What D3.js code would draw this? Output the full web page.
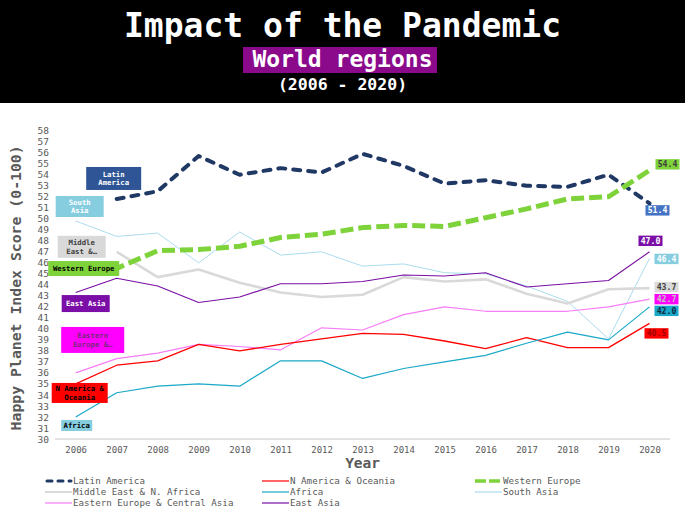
<!DOCTYPE html>
<html>
<head>
<meta charset="utf-8">
<script src="https://cdn.jsdelivr.net/npm/d3@7"></script>
<style>
  body { margin: 0; background: #fff; }
  text { font-family: "DejaVu Sans Mono", "Liberation Mono", monospace; }
</style>
</head>
<body>
<script>
const years = [2006, 2007, 2008, 2009, 2010, 2011, 2012, 2013, 2014, 2015, 2016, 2017, 2018, 2019, 2020];
const yTicks = d3.range(30, 59);

const latinAmerica = [null, 51.8, 52.5, 55.7, 54.0, 54.6, 54.2, 55.9, 54.8, 53.2, 53.5, 53.0, 52.9, 54.0, 51.4];
const westernEurope = [45.3, 45.5, 47.1, 47.2, 47.5, 48.3, 48.6, 49.2, 49.4, 49.3, 50.1, 50.9, 51.8, 52.0, 54.4];
const middleEast = [null, 47.0, 44.7, 45.4, 44.2, 43.3, 42.9, 43.1, 44.7, 44.3, 44.5, 43.2, 42.3, 43.6, 43.7];
const southAsia = [49.8, 48.4, 48.7, 46.0, 48.8, 46.7, 47.0, 45.7, 45.9, 45.1, 45.0, 43.9, 42.5, 39.1, 46.4];
const eastAsia = [43.3, 44.6, 43.9, 42.4, 42.9, 44.1, 44.1, 44.3, 44.9, 44.8, 45.1, 43.8, 44.1, 44.4, 47.0];
const easternEurope = [36.0, 37.3, 37.8, 38.6, 38.4, 38.1, 40.1, 39.9, 41.3, 42.0, 41.6, 41.6, 41.6, 42.0, 42.7];
const nAmerica = [35.0, 36.7, 37.1, 38.6, 38.0, 38.6, 39.1, 39.6, 39.5, 38.9, 38.2, 39.2, 38.3, 38.3, 40.5];
const africa = [32.0, 34.2, 34.8, 35.0, 34.8, 37.1, 37.1, 35.5, 36.4, 37.0, 37.6, 38.7, 39.7, 39.0, 42.0];

const width = 685, height = 514;

// series: drawing order is thin lines first, dashed on top
const series = [
  {name: "South Asia", values: southAsia, color: "#a9ddee", w: 1,
   tag: ["South", "Asia"], tagFill: "#86cde0", tagText: "#fff", tagW: 48, tagH: 21, tagDx: 4, tagDy: -14.5,
   endFill: "#86cde0", endText: "#fff", endDx: 17, endDy: 0.5},
  {name: "Middle East & N. Africa", values: middleEast, color: "#d9d9d9", w: 2.6,
   tag: ["Middle", "East &…"], tagFill: "#d9d9d9", tagText: "#404040", tagW: 48, tagH: 22, tagDx: -35, tagDy: -5,
   endFill: "#d9d9d9", endText: "#404040", endDx: 17, endDy: -1},
  {name: "East Asia", values: eastAsia, color: "#7a0ea4", w: 1.1,
   tag: ["East Asia"], tagFill: "#7a0ea6", tagText: "#fff", tagW: 48, tagH: 17, tagDx: 10, tagDy: 11,
   endFill: "#7a0ea6", endText: "#fff", endDx: 1, endDy: -11},
  {name: "Eastern Europe & Central Asia", values: easternEurope, color: "#f77ef7", w: 1.2,
   tag: ["Eastern", "Europe &…"], tagFill: "#ff00ff", tagText: "#7a2a7a", tagW: 63, tagH: 26, tagDx: 17, tagDy: -33,
   endFill: "#ff00ff", endText: "#c0c0c0", endDx: 17, endDy: 0},
  {name: "N America & Oceania", values: nAmerica, color: "#ff0000", w: 1.3,
   tag: ["N America &", "Oceania"], tagFill: "#ff0000", tagText: "#000", tagW: 56, tagH: 20, tagDx: 4, tagDy: 9,
   endFill: "#ff0000", endText: "#a00000", endDx: 7, endDy: 10},
  {name: "Africa", values: africa, color: "#1aa8c8", w: 1.2,
   tag: ["Africa"], tagFill: "#86cde0", tagText: "#000", tagW: 31, tagH: 11, tagDx: 1, tagDy: 8.5,
   endFill: "#1aa8c8", endText: "#0b2a40", endDx: 17, endDy: 4},
  {name: "Latin America", values: latinAmerica, color: "#1f3864", w: 4, dash: "7,8", cap: "round",
   tag: ["Latin", "America"], tagFill: "#2f5597", tagText: "#fff", tagW: 55, tagH: 23, tagDx: -3, tagDy: -20.5,
   endFill: "#4472c4", endText: "#fff", endDx: 8, endDy: 7},
  {name: "Western Europe", values: westernEurope, color: "#7ed33a", w: 5, dash: "13,5", cap: "butt",
   tag: ["Western Europe"], tagFill: "#7ed33a", tagText: "#000", tagW: 71, tagH: 15, tagDx: 8, tagDy: -2,
   endFill: "#7ed33a", endText: "#404040", endDx: 18, endDy: -6}
];

const legendOrder = [
  "Latin America", "N America & Oceania", "Western Europe",
  "Middle East & N. Africa", "Africa", "South Asia",
  "Eastern Europe & Central Asia", "East Asia"
];

const svg = d3.select("body").append("svg")
  .attr("width", width)
  .attr("height", height);

// header banner
svg.append("rect").attr("width", width).attr("height", 103).attr("fill", "#000");
svg.append("text")
  .attr("x", width / 2).attr("y", 37)
  .attr("text-anchor", "middle")
  .attr("fill", "#fff")
  .style("font-size", "33px").style("font-weight", "bold")
  .text("Impact of the Pandemic");
svg.append("rect").attr("x", 243).attr("y", 47).attr("width", 194).attr("height", 26).attr("fill", "#8b0a8b");
svg.append("text")
  .attr("x", width / 2).attr("y", 67)
  .attr("text-anchor", "middle")
  .attr("fill", "#fff")
  .style("font-size", "23px").style("font-weight", "bold")
  .text("World regions");
svg.append("text")
  .attr("x", width / 2).attr("y", 90)
  .attr("text-anchor", "middle")
  .attr("fill", "#fff")
  .style("font-size", "16.5px").style("font-weight", "bold")
  .text("(2006 - 2020)");

const x = d3.scalePoint().domain(years).range([75.7, 649.5]);
const y = d3.scaleLinear().domain([30, 58]).range([439, 130.7]);

// x axis
const xAxis = svg.append("g")
  .attr("transform", `translate(0,${y(30)})`)
  .call(d3.axisBottom(x).tickSize(0).tickPadding(8));
xAxis.select(".domain").remove();
xAxis.append("line").attr("x1", 55).attr("x2", 670).attr("stroke", "#d9d9d9").attr("stroke-width", 1.3);
xAxis.selectAll("text").attr("fill", "#595959").style("font-size", "9px")
  .style("font-family", "'DejaVu Sans Mono', monospace");

// y axis
const yAxis = svg.append("g")
  .attr("transform", "translate(55,0)")
  .call(d3.axisLeft(y).tickValues(yTicks).tickSize(0).tickPadding(6).tickFormat(d3.format("d")));
yAxis.select(".domain").remove();
yAxis.selectAll("text").attr("fill", "#595959").style("font-size", "9.5px")
  .style("font-family", "'DejaVu Sans Mono', monospace");

svg.append("text")
  .attr("transform", `translate(21,${(y(30) + y(58)) / 2 + 3}) rotate(-90)`)
  .attr("text-anchor", "middle")
  .attr("fill", "#595959")
  .style("font-size", "14.8px").style("font-weight", "bold")
  .text("Happy Planet Index Score (0-100)");

svg.append("text")
  .attr("x", (x(2006) + x(2020)) / 2).attr("y", 468)
  .attr("text-anchor", "middle")
  .attr("fill", "#595959")
  .style("font-size", "14.5px").style("font-weight", "bold")
  .text("Year");

// lines
const line = d3.line()
  .defined(d => d.v != null)
  .x(d => x(d.year))
  .y(d => y(d.v));

series.forEach(s => {
  const pts = years.map((year, i) => ({year, v: s.values[i]}));
  svg.append("path")
    .attr("fill", "none")
    .attr("stroke", s.color)
    .attr("stroke-width", s.w)
    .attr("stroke-dasharray", s.dash || null)
    .attr("stroke-linecap", s.cap || "butt")
    .attr("stroke-linejoin", "round")
    .attr("d", line(pts));
});

// tag boxes at first point and value boxes at last point
series.forEach(s => {
  const i0 = s.values.findIndex(v => v != null);
  const cx = x(years[i0]) + s.tagDx, cy = y(s.values[i0]) + s.tagDy;
  const g = svg.append("g");
  g.append("rect")
    .attr("x", cx - s.tagW / 2).attr("y", cy - s.tagH / 2)
    .attr("width", s.tagW).attr("height", s.tagH)
    .attr("fill", s.tagFill);
  const lh = 8.5;
  s.tag.forEach((t, k) => {
    g.append("text")
      .attr("x", cx)
      .attr("y", cy + (k - (s.tag.length - 1) / 2) * lh)
      .attr("dy", "0.35em")
      .attr("text-anchor", "middle")
      .attr("fill", s.tagText)
      .style("font-size", "7.3px").style("font-weight", "bold")
      .text(t);
  });

  const last = s.values[s.values.length - 1];
  const ex = x(years[years.length - 1]) + s.endDx, ey = y(last) + s.endDy;
  svg.append("rect")
    .attr("x", ex - 12).attr("y", ey - 5.2)
    .attr("width", 24).attr("height", 10.4)
    .attr("fill", s.endFill);
  svg.append("text")
    .attr("x", ex).attr("y", ey)
    .attr("dy", "0.35em")
    .attr("text-anchor", "middle")
    .attr("fill", s.endText)
    .style("font-size", "8.2px").style("font-weight", "bold")
    .text(d3.format(".1f")(last));
});

// legend
const legCols = [45, 262, 475];
const legRows = [481, 492, 503];
legendOrder.forEach((name, i) => {
  const s = series.find(d => d.name === name);
  const lx = legCols[i % 3], ly = legRows[Math.floor(i / 3)];
  const g = svg.append("g").attr("transform", `translate(${lx},${ly})`);
  if (s.dash) {
    const dashed = s.cap === "round";
    g.append("line")
      .attr("x1", dashed ? 2 : 0).attr("x2", 26)
      .attr("stroke", s.color)
      .attr("stroke-width", s.cap === "round" ? 3 : 3.4)
      .attr("stroke-linecap", s.cap)
      .attr("stroke-dasharray", dashed ? "5,6" : "11,3");
  } else {
    g.append("line")
      .attr("x1", 0).attr("x2", 27)
      .attr("stroke", s.color)
      .attr("stroke-width", s.w > 2 ? 2 : 1.2);
  }
  g.append("text")
    .attr("x", 28).attr("dy", "0.35em")
    .attr("fill", "#595959")
    .style("font-size", "9.2px")
    .text(name);
});
</script>
</body>
</html>
